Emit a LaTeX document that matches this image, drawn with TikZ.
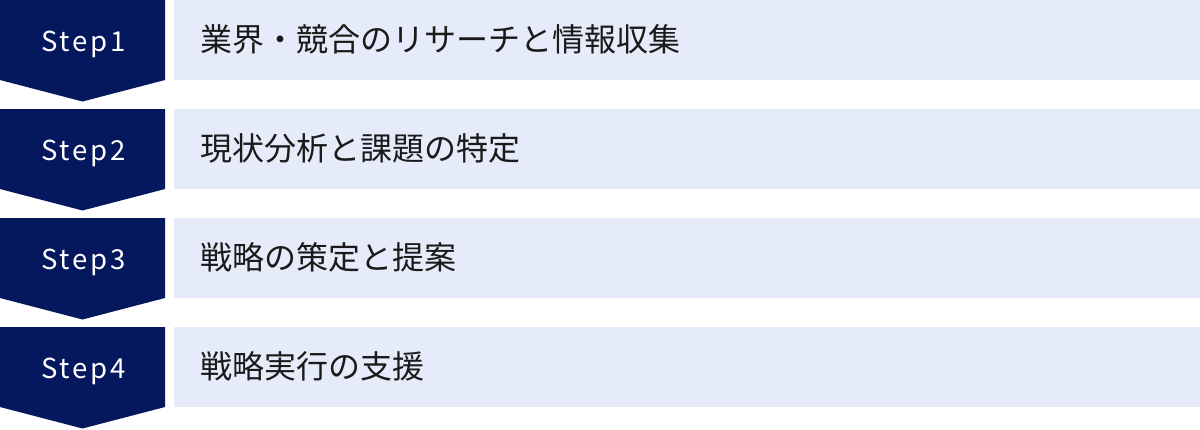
\documentclass[tikz,border=0pt]{standalone}
\usepackage{fontspec}
\setmainfont{Noto Sans CJK JP}
\newfontfamily\stepfont[LetterSpace=10]{Noto Sans CJK JP}
\definecolor{navy}{HTML}{05185E}
\definecolor{lightbg}{HTML}{E5EBF8}
\definecolor{txt}{HTML}{1A1A1A}
\begin{document}
\begin{tikzpicture}[x=1pt,y=-1pt,
  arrowshape/.style={fill=navy,draw=none},
  bandbox/.style={fill=lightbg,draw=none},
  steplabel/.style={text=white,font=\stepfont\fontsize{27.5}{30}\selectfont,inner sep=0pt,anchor=base},
  desclabel/.style={text=txt,font=\fontsize{32}{36}\selectfont,inner sep=0pt,anchor=base west}]
\useasboundingbox[fill=white] (0,0) rectangle (1200,429);
\foreach \i/\t/\lab in {1/0/{業界・競合のリサーチと情報収集},2/109/{現状分析と課題の特定},3/218/{戦略の策定と提案},4/327/{戦略実行の支援}}{
  \fill[bandbox] (174,\t) rectangle (1200,\t+80);
  \fill[arrowshape] (0,\t) -- (165,\t) -- (165,\t+80) -- (82.5,\t+101.5) -- (0,\t+80) -- cycle;
  \node[steplabel] (step\i) at (83.5,\t+51.5) {Step\i};
  \node[desclabel] (desc\i) at (200,\t+51.5) {\lab};
}
\end{tikzpicture}
\end{document}
